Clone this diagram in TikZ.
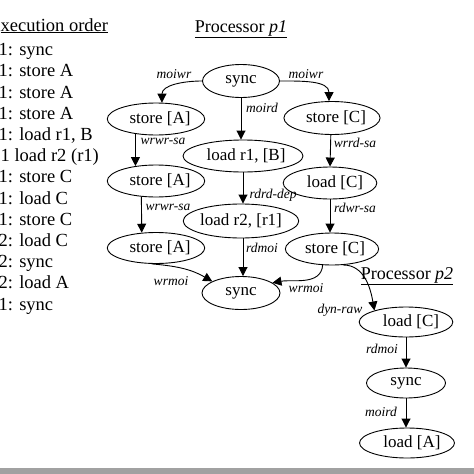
\documentclass[tikz,border=0pt]{standalone}
\usepackage{fontspec}
\setmainfont{Liberation Serif}
\usetikzlibrary{shapes.geometric,arrows.meta}
\tikzset{
  ell/.style={draw, ellipse, inner sep=0pt, line width=0.9pt, font=\fontsize{17}{20}\selectfont},
  lbl/.style={font=\fontsize{13.5}{16}\selectfont\itshape, inner sep=0pt},
  arr/.style={-{Triangle[length=9pt,width=9pt]}, line width=0.9pt},
  lst/.style={anchor=base west, inner sep=0pt, font=\fontsize{18.5}{21}\selectfont},
  ttl/.style={anchor=base, inner sep=0pt, font=\fontsize{18}{21}\selectfont},
}
\begin{document}
\begin{tikzpicture}[x=1pt,y=1pt]
\useasboundingbox (0,0) rectangle (474,-474);
\fill[black!37] (0,-468) rectangle (474,-474);

% execution order list (as visible in the picture)
\node[lst] (t0) at (0.5,-31) {\underline{xecution order}};
\node[lst] (t1) at (-1.5,-55.7) {1: sync};
\node[lst] (t2) at (-1.5,-76.9) {1: store A};
\node[lst] (t3) at (-1.5,-98.1) {1: store A};
\node[lst] (t4) at (-1.5,-119.3) {1: store A};
\node[lst] (t5) at (-1.5,-140.5) {1: load r1, B};
\node[lst] (t6) at (0.5,-161.7) {1 load r2 (r1)};
\node[lst] (t7) at (-1.5,-182.9) {1: store C};
\node[lst] (t8) at (-1.5,-204.1) {1: load C};
\node[lst] (t9) at (-1.5,-225.3) {1: store C};
\node[lst] (t10) at (-1.5,-246.5) {2: load C};
\node[lst] (t11) at (-1.5,-267.7) {2: sync};
\node[lst] (t12) at (-1.5,-288.9) {2: load A};
\node[lst] (t13) at (-1.5,-310.1) {1: sync};

% titles
\node[ttl] (p1) at (241,-32) {\underline{Processor \textit{p1}}};
\node[ttl] (p2) at (407,-279) {\underline{Processor \textit{p2}}};

% nodes processor p1
\node[ell, minimum width=77pt, minimum height=33pt] (s0) at (241,-81) {sync};
\node[ell, minimum width=77pt, minimum height=32pt] (sA1) at (156,-119) {\hspace*{8pt}store [A]};
\node[ell, minimum width=82pt, minimum height=33pt] (sC1) at (332,-118) {\hspace*{8pt}store [C]};
\node[ell, minimum width=88pt, minimum height=32pt] (lB) at (243,-156) {\hspace*{6pt}load r1, [B]};
\node[ell, minimum width=77pt, minimum height=32pt] (sA2) at (156,-181) {\hspace*{8pt}store [A]};
\node[ell, minimum width=78pt, minimum height=32pt] (lC1) at (330,-183) {\hspace*{10pt}load [C]};
\node[ell, minimum width=95pt, minimum height=34pt] (lr2) at (241,-221) {load r2, [r1]};
\node[ell, minimum width=78pt, minimum height=31pt] (sA3) at (156,-248) {\hspace*{8pt}store [A]};
\node[ell, minimum width=78pt, minimum height=32pt] (sC2) at (332,-249) {\hspace*{6pt}store [C]};
\node[ell, minimum width=78pt, minimum height=33pt] (s1) at (241,-293) {sync};

% nodes processor p2
\node[ell, minimum width=79pt, minimum height=30pt] (lC2) at (406,-322) {\hspace*{10pt}load [C]};
\node[ell, minimum width=79pt, minimum height=30pt] (s2) at (406,-383) {sync};
\node[ell, minimum width=80pt, minimum height=30pt] (lA) at (407,-443) {\hspace*{10pt}load [A]};

% edges
\draw[arr] (s0.west) to[out=180,in=90] (sA1.70);
\draw[arr] (s0.east) to[out=0,in=90] (sC1.100);
\draw[arr] (s0.south) -- (s0.south |- lB.north);
\draw[arr] (sA1.-144) -- (sA2.144);
\draw[arr] (sA2.-133) -- (sA3.133);
\draw[arr] (lB.south) -- (lB.south |- lr2.north);
\draw[arr] (lr2.south -| lB.south) -- (s1.north -| lB.south);
\draw[arr] (sC1.-94) -- (lC1.north);
\draw[arr] (lC1.south) -- (lC1.south |- sC2.north);
\draw[arr] (sA3.-105) to[out=-5,in=150] (s1.158);
\draw[arr] (sC2.-120) to[out=-95,in=10] (s1.18);
\draw[arr] (sC2.-55) to[out=0,in=100] (lC2.160);
\draw[arr] (lC2.south) -- (lC2.south |- s2.north);
\draw[arr] (s2.south) -- (s2.south |- lA.north);

% edge labels
\node[lbl] (e1) at (174,-74) {moiwr};
\node[lbl] (e2) at (306,-74) {moiwr};
\node[lbl] (e3) at (262,-108) {moird};
\node[lbl] (e4) at (163,-141) {wrwr-sa};
\node[lbl] (e5) at (355,-143) {wrrd-sa};
\node[lbl] (e6) at (168,-207) {wrwr-sa};
\node[lbl] (e7) at (273,-195) {rdrd-dep};
\node[lbl] (e8) at (355,-208) {rdwr-sa};
\node[lbl] (e9) at (262,-248) {rdmoi};
\node[lbl] (e10) at (171,-281) {wrmoi};
\node[lbl] (e11) at (306,-288) {wrmoi};
\node[lbl] (e12) at (340,-310) {dyn-raw};
\node[lbl] (e13) at (382,-349) {rdmoi};
\node[lbl] (e14) at (381,-412) {moird};
\end{tikzpicture}
\end{document}
